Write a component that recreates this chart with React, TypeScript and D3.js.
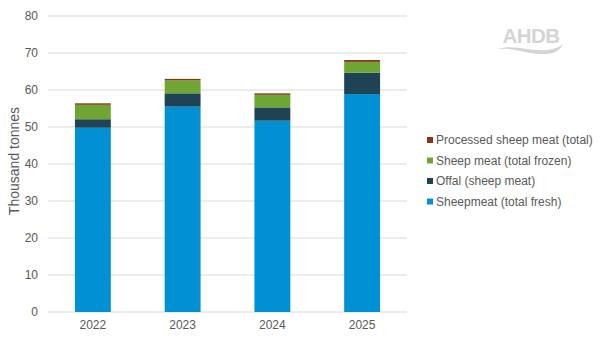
import React from "react";
import { scaleBand, scaleLinear, stack } from "d3";

const width = 602;
const height = 345;

const years = ["2022", "2023", "2024", "2025"];
const freshValues = [49.8, 55.5, 51.7, 58.9];
const offalValues = [2.3, 3.6, 3.6, 5.8];
const frozenValues = [3.9, 3.5, 3.4, 2.9];
const processedValues = [0.4, 0.4, 0.4, 0.5];

const seriesKeys = ["fresh", "offal", "frozen", "processed"];
const seriesLabels: Record<string, string> = {
  fresh: "Sheepmeat (total fresh)",
  offal: "Offal (sheep meat)",
  frozen: "Sheep meat (total frozen)",
  processed: "Processed sheep meat (total)",
};
const seriesColors: Record<string, string> = {
  fresh: "#0090d3",
  offal: "#1e4354",
  frozen: "#6fa532",
  processed: "#8b3518",
};
const yTicks = [0, 10, 20, 30, 40, 50, 60, 70, 80];

const rows = years.map((year, i) => ({
  year,
  fresh: freshValues[i],
  offal: offalValues[i],
  frozen: frozenValues[i],
  processed: processedValues[i],
}));

const x = scaleBand().domain(years).range([48, 407]).paddingInner(0.6).paddingOuter(0.3);
const y = scaleLinear().domain([0, 80]).range([312, 16]);
const layers = stack<any>().keys(seriesKeys)(rows);

const textColor = "#595959";
const font = "'Liberation Sans', Arial, sans-serif";

export default function App() {
  // legend lists the top of the stack first
  const legendOrder = [...seriesKeys].reverse();
  return (
    <svg width={width} height={height} style={{ position: "absolute", left: 0, top: 0, background: "#fff" }} fontFamily={font}>
      {yTicks.map((t) => (
        <g key={t}>
          <line x1={48} x2={407} y1={y(t)} y2={y(t)} stroke="#d9d9d9" strokeWidth={1} />
          <text x={38} y={y(t)} dy="0.35em" textAnchor="end" fontSize={12} fill={textColor}>
            {t}
          </text>
        </g>
      ))}
      <text
        transform={`translate(19,${(y(0) + y(80)) / 2 - 3}) rotate(-90)`}
        textAnchor="middle"
        fontSize={14}
        fill={textColor}
      >
        Thousand tonnes
      </text>

      {layers.map((layer) => (
        <g key={layer.key} fill={seriesColors[layer.key]}>
          {layer.map((d, i) => (
            <rect
              key={i}
              x={x(years[i])}
              width={x.bandwidth()}
              y={y(d[1])}
              height={y(d[0]) - y(d[1])}
            />
          ))}
        </g>
      ))}

      {years.map((yr) => (
        <text
          key={yr}
          x={(x(yr) as number) + x.bandwidth() / 2}
          y={329}
          textAnchor="middle"
          fontSize={12}
          fill={textColor}
        >
          {yr}
        </text>
      ))}

      {legendOrder.map((k, i) => (
        <g key={k} transform={`translate(427,${140 + i * 20.5})`}>
          <rect x={0} y={-3} width={6} height={6} fill={seriesColors[k]} />
          <text x={9} y={0} dy="0.35em" fontSize={12} fill={textColor}>
            {seriesLabels[k]}
          </text>
        </g>
      ))}

      <g fill="#d4d4d4">
        <text x={531} y={43} textAnchor="middle" fontSize={20.5} fontWeight="bold" letterSpacing={-0.5}>
          AHDB
        </text>
        <path d="M497,49 C515,44 530,52 548,50 C555,49 560,47 563,44 C560,51 553,54 545,54 C528,55 515,47 497,49 Z" />
      </g>
    </svg>
  );
}
